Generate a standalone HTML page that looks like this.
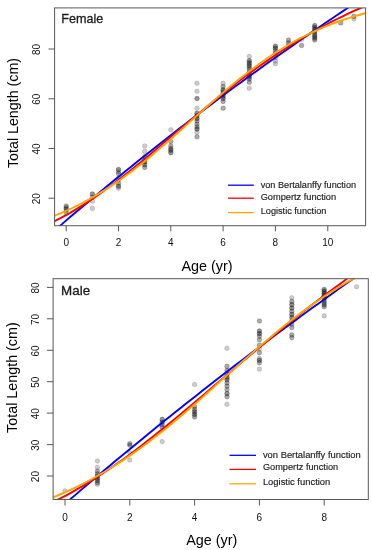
<!DOCTYPE html>
<html><head><meta charset="utf-8"><title>Growth curves</title>
<style>html,body{margin:0;padding:0;background:#fff}svg{display:block}</style></head>
<body>
<svg width="372" height="550" viewBox="0 0 372 550" font-family="'Liberation Sans', sans-serif">
<rect width="372" height="550" fill="#fff"/>
<clipPath id="ct"><rect x="54.6" y="7.9" width="311.0" height="217.79999999999998"/></clipPath>
<g clip-path="url(#ct)">
<g fill="#000" stroke="#000" stroke-width="1">
<circle cx="66.2" cy="206.0" r="2.3" fill-opacity="0.32" stroke-opacity="0.21"/>
<circle cx="66.2" cy="207.7" r="2.3" fill-opacity="0.32" stroke-opacity="0.21"/>
<circle cx="66.2" cy="209.4" r="2.3" fill-opacity="0.32" stroke-opacity="0.21"/>
<circle cx="66.2" cy="211.2" r="2.3" fill-opacity="0.20" stroke-opacity="0.13"/>
<circle cx="66.2" cy="213.2" r="2.3" fill-opacity="0.20" stroke-opacity="0.13"/>
<circle cx="92.4" cy="194.0" r="2.3" fill-opacity="0.41" stroke-opacity="0.28"/>
<circle cx="92.4" cy="197.3" r="2.3" fill-opacity="0.32" stroke-opacity="0.21"/>
<circle cx="92.4" cy="201.2" r="2.3" fill-opacity="0.20" stroke-opacity="0.13"/>
<circle cx="92.4" cy="208.4" r="2.3" fill-opacity="0.20" stroke-opacity="0.13"/>
<circle cx="118.5" cy="169.6" r="2.3" fill-opacity="0.41" stroke-opacity="0.28"/>
<circle cx="118.5" cy="171.9" r="2.3" fill-opacity="0.20" stroke-opacity="0.13"/>
<circle cx="118.5" cy="173.6" r="2.3" fill-opacity="0.32" stroke-opacity="0.21"/>
<circle cx="118.5" cy="178.1" r="2.3" fill-opacity="0.20" stroke-opacity="0.13"/>
<circle cx="118.5" cy="180.1" r="2.3" fill-opacity="0.20" stroke-opacity="0.13"/>
<circle cx="118.5" cy="183.3" r="2.3" fill-opacity="0.32" stroke-opacity="0.21"/>
<circle cx="118.5" cy="186.3" r="2.3" fill-opacity="0.41" stroke-opacity="0.28"/>
<circle cx="118.5" cy="188.3" r="2.3" fill-opacity="0.20" stroke-opacity="0.13"/>
<circle cx="144.7" cy="146.0" r="2.3" fill-opacity="0.20" stroke-opacity="0.13"/>
<circle cx="144.7" cy="151.2" r="2.3" fill-opacity="0.20" stroke-opacity="0.13"/>
<circle cx="144.7" cy="156.7" r="2.3" fill-opacity="0.32" stroke-opacity="0.21"/>
<circle cx="144.7" cy="159.7" r="2.3" fill-opacity="0.32" stroke-opacity="0.21"/>
<circle cx="144.7" cy="161.9" r="2.3" fill-opacity="0.41" stroke-opacity="0.28"/>
<circle cx="144.7" cy="164.7" r="2.3" fill-opacity="0.41" stroke-opacity="0.28"/>
<circle cx="144.7" cy="167.4" r="2.3" fill-opacity="0.32" stroke-opacity="0.21"/>
<circle cx="170.8" cy="129.8" r="2.3" fill-opacity="0.20" stroke-opacity="0.13"/>
<circle cx="170.8" cy="141.5" r="2.3" fill-opacity="0.32" stroke-opacity="0.21"/>
<circle cx="170.8" cy="146.0" r="2.3" fill-opacity="0.32" stroke-opacity="0.21"/>
<circle cx="170.8" cy="148.5" r="2.3" fill-opacity="0.32" stroke-opacity="0.21"/>
<circle cx="170.8" cy="150.2" r="2.3" fill-opacity="0.41" stroke-opacity="0.28"/>
<circle cx="170.8" cy="152.7" r="2.3" fill-opacity="0.41" stroke-opacity="0.28"/>
<circle cx="197.0" cy="83.3" r="2.3" fill-opacity="0.20" stroke-opacity="0.13"/>
<circle cx="197.0" cy="91.3" r="2.3" fill-opacity="0.20" stroke-opacity="0.13"/>
<circle cx="197.0" cy="98.5" r="2.3" fill-opacity="0.41" stroke-opacity="0.28"/>
<circle cx="197.0" cy="108.2" r="2.3" fill-opacity="0.20" stroke-opacity="0.13"/>
<circle cx="197.0" cy="113.2" r="2.3" fill-opacity="0.41" stroke-opacity="0.28"/>
<circle cx="197.0" cy="115.7" r="2.3" fill-opacity="0.41" stroke-opacity="0.28"/>
<circle cx="197.0" cy="118.4" r="2.3" fill-opacity="0.41" stroke-opacity="0.28"/>
<circle cx="197.0" cy="120.9" r="2.3" fill-opacity="0.32" stroke-opacity="0.21"/>
<circle cx="197.0" cy="124.1" r="2.3" fill-opacity="0.32" stroke-opacity="0.21"/>
<circle cx="197.0" cy="126.9" r="2.3" fill-opacity="0.32" stroke-opacity="0.21"/>
<circle cx="197.0" cy="129.1" r="2.3" fill-opacity="0.41" stroke-opacity="0.28"/>
<circle cx="197.0" cy="132.3" r="2.3" fill-opacity="0.20" stroke-opacity="0.13"/>
<circle cx="197.0" cy="136.8" r="2.3" fill-opacity="0.32" stroke-opacity="0.21"/>
<circle cx="223.1" cy="83.3" r="2.3" fill-opacity="0.20" stroke-opacity="0.13"/>
<circle cx="223.1" cy="86.6" r="2.3" fill-opacity="0.32" stroke-opacity="0.21"/>
<circle cx="223.1" cy="89.8" r="2.3" fill-opacity="0.41" stroke-opacity="0.28"/>
<circle cx="223.1" cy="92.0" r="2.3" fill-opacity="0.41" stroke-opacity="0.28"/>
<circle cx="223.1" cy="94.3" r="2.3" fill-opacity="0.41" stroke-opacity="0.28"/>
<circle cx="223.1" cy="96.3" r="2.3" fill-opacity="0.41" stroke-opacity="0.28"/>
<circle cx="223.1" cy="98.5" r="2.3" fill-opacity="0.41" stroke-opacity="0.28"/>
<circle cx="223.1" cy="101.5" r="2.3" fill-opacity="0.32" stroke-opacity="0.21"/>
<circle cx="223.1" cy="108.2" r="2.3" fill-opacity="0.32" stroke-opacity="0.21"/>
<circle cx="249.3" cy="56.5" r="2.3" fill-opacity="0.20" stroke-opacity="0.13"/>
<circle cx="249.3" cy="60.7" r="2.3" fill-opacity="0.41" stroke-opacity="0.28"/>
<circle cx="249.3" cy="62.9" r="2.3" fill-opacity="0.41" stroke-opacity="0.28"/>
<circle cx="249.3" cy="65.2" r="2.3" fill-opacity="0.41" stroke-opacity="0.28"/>
<circle cx="249.3" cy="67.4" r="2.3" fill-opacity="0.32" stroke-opacity="0.21"/>
<circle cx="249.3" cy="69.4" r="2.3" fill-opacity="0.32" stroke-opacity="0.21"/>
<circle cx="249.3" cy="72.6" r="2.3" fill-opacity="0.41" stroke-opacity="0.28"/>
<circle cx="249.3" cy="74.9" r="2.3" fill-opacity="0.41" stroke-opacity="0.28"/>
<circle cx="249.3" cy="77.1" r="2.3" fill-opacity="0.41" stroke-opacity="0.28"/>
<circle cx="249.3" cy="79.1" r="2.3" fill-opacity="0.32" stroke-opacity="0.21"/>
<circle cx="249.3" cy="82.3" r="2.3" fill-opacity="0.32" stroke-opacity="0.21"/>
<circle cx="249.3" cy="88.3" r="2.3" fill-opacity="0.20" stroke-opacity="0.13"/>
<circle cx="275.4" cy="46.3" r="2.3" fill-opacity="0.41" stroke-opacity="0.28"/>
<circle cx="275.4" cy="48.3" r="2.3" fill-opacity="0.41" stroke-opacity="0.28"/>
<circle cx="275.4" cy="51.0" r="2.3" fill-opacity="0.32" stroke-opacity="0.21"/>
<circle cx="275.4" cy="53.5" r="2.3" fill-opacity="0.32" stroke-opacity="0.21"/>
<circle cx="275.4" cy="57.7" r="2.3" fill-opacity="0.20" stroke-opacity="0.13"/>
<circle cx="275.4" cy="60.9" r="2.3" fill-opacity="0.20" stroke-opacity="0.13"/>
<circle cx="275.4" cy="63.7" r="2.3" fill-opacity="0.20" stroke-opacity="0.13"/>
<circle cx="288.5" cy="40.0" r="2.3" fill-opacity="0.32" stroke-opacity="0.21"/>
<circle cx="288.5" cy="42.8" r="2.3" fill-opacity="0.32" stroke-opacity="0.21"/>
<circle cx="288.5" cy="44.8" r="2.3" fill-opacity="0.20" stroke-opacity="0.13"/>
<circle cx="301.6" cy="39.5" r="2.3" fill-opacity="0.20" stroke-opacity="0.13"/>
<circle cx="301.6" cy="45.5" r="2.3" fill-opacity="0.32" stroke-opacity="0.21"/>
<circle cx="314.7" cy="25.6" r="2.3" fill-opacity="0.41" stroke-opacity="0.28"/>
<circle cx="314.7" cy="27.6" r="2.3" fill-opacity="0.41" stroke-opacity="0.28"/>
<circle cx="314.7" cy="29.6" r="2.3" fill-opacity="0.41" stroke-opacity="0.28"/>
<circle cx="314.7" cy="31.8" r="2.3" fill-opacity="0.41" stroke-opacity="0.28"/>
<circle cx="314.7" cy="34.1" r="2.3" fill-opacity="0.32" stroke-opacity="0.21"/>
<circle cx="314.7" cy="36.1" r="2.3" fill-opacity="0.41" stroke-opacity="0.28"/>
<circle cx="314.7" cy="38.1" r="2.3" fill-opacity="0.41" stroke-opacity="0.28"/>
<circle cx="314.7" cy="40.0" r="2.3" fill-opacity="0.32" stroke-opacity="0.21"/>
<circle cx="340.8" cy="22.9" r="2.3" fill-opacity="0.32" stroke-opacity="0.21"/>
<circle cx="353.9" cy="16.4" r="2.3" fill-opacity="0.32" stroke-opacity="0.21"/>
<circle cx="353.9" cy="18.9" r="2.3" fill-opacity="0.20" stroke-opacity="0.13"/>
</g>
<path d="M50.6 233.9 L56.0 229.2 L61.4 224.6 L66.8 219.9 L72.2 215.3 L77.6 210.7 L83.0 206.2 L88.4 201.7 L93.8 197.1 L99.2 192.7 L104.6 188.2 L110.0 183.7 L115.4 179.3 L120.9 174.9 L126.3 170.5 L131.7 166.2 L137.1 161.8 L142.5 157.5 L147.9 153.2 L153.3 148.9 L158.7 144.7 L164.1 140.4 L169.5 136.2 L174.9 132.0 L180.3 127.8 L185.7 123.7 L191.1 119.5 L196.6 115.4 L202.0 111.3 L207.4 107.2 L212.8 103.2 L218.2 99.1 L223.6 95.1 L229.0 91.1 L234.4 87.1 L239.8 83.2 L245.2 79.2 L250.6 75.3 L256.0 71.4 L261.4 67.5 L266.9 63.6 L272.3 59.8 L277.7 56.0 L283.1 52.2 L288.5 48.4 L293.9 44.6 L299.3 40.8 L304.7 37.1 L310.1 33.4 L315.5 29.7 L320.9 26.0 L326.3 22.3 L331.7 18.7 L337.1 15.0 L342.6 11.4 L348.0 7.8 L353.4 4.2 L358.8 0.7 L364.2 -2.9 L369.6 -6.4" fill="none" stroke="#0000ff" stroke-width="1.9"/>
<path d="M50.6 223.0 L56.0 220.4 L61.4 217.6 L66.8 214.7 L72.2 211.6 L77.6 208.4 L83.0 205.0 L88.4 201.5 L93.8 197.9 L99.2 194.1 L104.6 190.2 L110.0 186.3 L115.4 182.2 L120.9 178.0 L126.3 173.8 L131.7 169.5 L137.1 165.1 L142.5 160.7 L147.9 156.2 L153.3 151.7 L158.7 147.1 L164.1 142.6 L169.5 138.0 L174.9 133.4 L180.3 128.8 L185.7 124.3 L191.1 119.7 L196.6 115.2 L202.0 110.7 L207.4 106.2 L212.8 101.8 L218.2 97.5 L223.6 93.1 L229.0 88.9 L234.4 84.7 L239.8 80.5 L245.2 76.5 L250.6 72.5 L256.0 68.5 L261.4 64.7 L266.9 60.9 L272.3 57.2 L277.7 53.5 L283.1 50.0 L288.5 46.5 L293.9 43.1 L299.3 39.8 L304.7 36.6 L310.1 33.5 L315.5 30.4 L320.9 27.4 L326.3 24.5 L331.7 21.7 L337.1 19.0 L342.6 16.3 L348.0 13.7 L353.4 11.2 L358.8 8.8 L364.2 6.4 L369.6 4.1" fill="none" stroke="#ff0000" stroke-width="1.9"/>
<path d="M50.6 217.3 L56.0 215.1 L61.4 212.9 L66.8 210.5 L72.2 208.0 L77.6 205.4 L83.0 202.6 L88.4 199.7 L93.8 196.6 L99.2 193.4 L104.6 190.1 L110.0 186.6 L115.4 183.0 L120.9 179.2 L126.3 175.3 L131.7 171.3 L137.1 167.1 L142.5 162.9 L147.9 158.5 L153.3 154.0 L158.7 149.4 L164.1 144.8 L169.5 140.1 L174.9 135.3 L180.3 130.5 L185.7 125.6 L191.1 120.8 L196.6 115.9 L202.0 111.1 L207.4 106.3 L212.8 101.5 L218.2 96.8 L223.6 92.1 L229.0 87.5 L234.4 83.0 L239.8 78.6 L245.2 74.4 L250.6 70.2 L256.0 66.2 L261.4 62.2 L266.9 58.5 L272.3 54.8 L277.7 51.3 L283.1 48.0 L288.5 44.7 L293.9 41.7 L299.3 38.7 L304.7 36.0 L310.1 33.3 L315.5 30.8 L320.9 28.4 L326.3 26.1 L331.7 24.0 L337.1 22.0 L342.6 20.1 L348.0 18.3 L353.4 16.6 L358.8 15.0 L364.2 13.5 L369.6 12.1" fill="none" stroke="#ffa500" stroke-width="1.9"/>
</g>
<clipPath id="cb"><rect x="53.1" y="278.7" width="315.2" height="220.8"/></clipPath>
<g clip-path="url(#cb)">
<g fill="#000" stroke="#000" stroke-width="1">
<circle cx="65.0" cy="490.9" r="2.3" fill-opacity="0.20" stroke-opacity="0.13"/>
<circle cx="97.4" cy="461.0" r="2.3" fill-opacity="0.20" stroke-opacity="0.13"/>
<circle cx="97.4" cy="467.3" r="2.3" fill-opacity="0.20" stroke-opacity="0.13"/>
<circle cx="97.4" cy="471.0" r="2.3" fill-opacity="0.32" stroke-opacity="0.21"/>
<circle cx="97.4" cy="473.9" r="2.3" fill-opacity="0.32" stroke-opacity="0.21"/>
<circle cx="97.4" cy="476.1" r="2.3" fill-opacity="0.41" stroke-opacity="0.28"/>
<circle cx="97.4" cy="478.3" r="2.3" fill-opacity="0.41" stroke-opacity="0.28"/>
<circle cx="97.4" cy="480.5" r="2.3" fill-opacity="0.41" stroke-opacity="0.28"/>
<circle cx="97.4" cy="482.7" r="2.3" fill-opacity="0.32" stroke-opacity="0.21"/>
<circle cx="97.4" cy="484.2" r="2.3" fill-opacity="0.20" stroke-opacity="0.13"/>
<circle cx="129.8" cy="443.7" r="2.3" fill-opacity="0.32" stroke-opacity="0.21"/>
<circle cx="129.8" cy="445.2" r="2.3" fill-opacity="0.32" stroke-opacity="0.21"/>
<circle cx="129.8" cy="452.8" r="2.3" fill-opacity="0.20" stroke-opacity="0.13"/>
<circle cx="129.8" cy="460.0" r="2.3" fill-opacity="0.20" stroke-opacity="0.13"/>
<circle cx="162.2" cy="419.4" r="2.3" fill-opacity="0.41" stroke-opacity="0.28"/>
<circle cx="162.2" cy="422.3" r="2.3" fill-opacity="0.41" stroke-opacity="0.28"/>
<circle cx="162.2" cy="424.8" r="2.3" fill-opacity="0.32" stroke-opacity="0.21"/>
<circle cx="162.2" cy="427.3" r="2.3" fill-opacity="0.32" stroke-opacity="0.21"/>
<circle cx="162.2" cy="441.5" r="2.3" fill-opacity="0.20" stroke-opacity="0.13"/>
<circle cx="194.6" cy="384.5" r="2.3" fill-opacity="0.20" stroke-opacity="0.13"/>
<circle cx="194.6" cy="406.5" r="2.3" fill-opacity="0.32" stroke-opacity="0.21"/>
<circle cx="194.6" cy="409.4" r="2.3" fill-opacity="0.32" stroke-opacity="0.21"/>
<circle cx="194.6" cy="411.9" r="2.3" fill-opacity="0.41" stroke-opacity="0.28"/>
<circle cx="194.6" cy="414.4" r="2.3" fill-opacity="0.41" stroke-opacity="0.28"/>
<circle cx="194.6" cy="416.9" r="2.3" fill-opacity="0.32" stroke-opacity="0.21"/>
<circle cx="227.0" cy="348.3" r="2.3" fill-opacity="0.20" stroke-opacity="0.13"/>
<circle cx="227.0" cy="366.3" r="2.3" fill-opacity="0.32" stroke-opacity="0.21"/>
<circle cx="227.0" cy="370.4" r="2.3" fill-opacity="0.32" stroke-opacity="0.21"/>
<circle cx="227.0" cy="374.4" r="2.3" fill-opacity="0.41" stroke-opacity="0.28"/>
<circle cx="227.0" cy="377.3" r="2.3" fill-opacity="0.41" stroke-opacity="0.28"/>
<circle cx="227.0" cy="379.8" r="2.3" fill-opacity="0.41" stroke-opacity="0.28"/>
<circle cx="227.0" cy="382.9" r="2.3" fill-opacity="0.32" stroke-opacity="0.21"/>
<circle cx="227.0" cy="386.1" r="2.3" fill-opacity="0.32" stroke-opacity="0.21"/>
<circle cx="227.0" cy="389.5" r="2.3" fill-opacity="0.32" stroke-opacity="0.21"/>
<circle cx="227.0" cy="393.6" r="2.3" fill-opacity="0.41" stroke-opacity="0.28"/>
<circle cx="227.0" cy="396.8" r="2.3" fill-opacity="0.32" stroke-opacity="0.21"/>
<circle cx="227.0" cy="404.3" r="2.3" fill-opacity="0.20" stroke-opacity="0.13"/>
<circle cx="259.4" cy="321.0" r="2.3" fill-opacity="0.32" stroke-opacity="0.21"/>
<circle cx="259.4" cy="331.0" r="2.3" fill-opacity="0.41" stroke-opacity="0.28"/>
<circle cx="259.4" cy="333.6" r="2.3" fill-opacity="0.41" stroke-opacity="0.28"/>
<circle cx="259.4" cy="336.1" r="2.3" fill-opacity="0.32" stroke-opacity="0.21"/>
<circle cx="259.4" cy="339.8" r="2.3" fill-opacity="0.32" stroke-opacity="0.21"/>
<circle cx="259.4" cy="345.2" r="2.3" fill-opacity="0.32" stroke-opacity="0.21"/>
<circle cx="259.4" cy="349.0" r="2.3" fill-opacity="0.20" stroke-opacity="0.13"/>
<circle cx="259.4" cy="352.7" r="2.3" fill-opacity="0.32" stroke-opacity="0.21"/>
<circle cx="259.4" cy="358.4" r="2.3" fill-opacity="0.20" stroke-opacity="0.13"/>
<circle cx="259.4" cy="360.3" r="2.3" fill-opacity="0.41" stroke-opacity="0.28"/>
<circle cx="259.4" cy="362.8" r="2.3" fill-opacity="0.32" stroke-opacity="0.21"/>
<circle cx="259.4" cy="369.1" r="2.3" fill-opacity="0.20" stroke-opacity="0.13"/>
<circle cx="291.8" cy="297.7" r="2.3" fill-opacity="0.20" stroke-opacity="0.13"/>
<circle cx="291.8" cy="301.5" r="2.3" fill-opacity="0.32" stroke-opacity="0.21"/>
<circle cx="291.8" cy="304.6" r="2.3" fill-opacity="0.41" stroke-opacity="0.28"/>
<circle cx="291.8" cy="308.1" r="2.3" fill-opacity="0.41" stroke-opacity="0.28"/>
<circle cx="291.8" cy="311.2" r="2.3" fill-opacity="0.32" stroke-opacity="0.21"/>
<circle cx="291.8" cy="314.4" r="2.3" fill-opacity="0.41" stroke-opacity="0.28"/>
<circle cx="291.8" cy="317.5" r="2.3" fill-opacity="0.41" stroke-opacity="0.28"/>
<circle cx="291.8" cy="321.0" r="2.3" fill-opacity="0.32" stroke-opacity="0.21"/>
<circle cx="291.8" cy="324.1" r="2.3" fill-opacity="0.32" stroke-opacity="0.21"/>
<circle cx="291.8" cy="327.6" r="2.3" fill-opacity="0.32" stroke-opacity="0.21"/>
<circle cx="291.8" cy="334.8" r="2.3" fill-opacity="0.32" stroke-opacity="0.21"/>
<circle cx="291.8" cy="337.6" r="2.3" fill-opacity="0.32" stroke-opacity="0.21"/>
<circle cx="324.2" cy="289.5" r="2.3" fill-opacity="0.41" stroke-opacity="0.28"/>
<circle cx="324.2" cy="291.4" r="2.3" fill-opacity="0.41" stroke-opacity="0.28"/>
<circle cx="324.2" cy="293.3" r="2.3" fill-opacity="0.41" stroke-opacity="0.28"/>
<circle cx="324.2" cy="295.2" r="2.3" fill-opacity="0.41" stroke-opacity="0.28"/>
<circle cx="324.2" cy="297.1" r="2.3" fill-opacity="0.41" stroke-opacity="0.28"/>
<circle cx="324.2" cy="298.9" r="2.3" fill-opacity="0.32" stroke-opacity="0.21"/>
<circle cx="324.2" cy="301.1" r="2.3" fill-opacity="0.32" stroke-opacity="0.21"/>
<circle cx="324.2" cy="303.0" r="2.3" fill-opacity="0.32" stroke-opacity="0.21"/>
<circle cx="324.2" cy="304.9" r="2.3" fill-opacity="0.32" stroke-opacity="0.21"/>
<circle cx="324.2" cy="306.8" r="2.3" fill-opacity="0.32" stroke-opacity="0.21"/>
<circle cx="324.2" cy="315.9" r="2.3" fill-opacity="0.20" stroke-opacity="0.13"/>
<circle cx="356.6" cy="286.7" r="2.3" fill-opacity="0.20" stroke-opacity="0.13"/>
</g>
<path d="M48.8 517.8 L54.3 513.1 L59.8 508.3 L65.3 503.5 L70.8 498.8 L76.3 494.1 L81.7 489.4 L87.2 484.7 L92.7 480.1 L98.2 475.4 L103.7 470.8 L109.2 466.2 L114.7 461.6 L120.2 457.0 L125.7 452.5 L131.2 447.9 L136.7 443.4 L142.2 438.9 L147.6 434.5 L153.1 430.0 L158.6 425.5 L164.1 421.1 L169.6 416.7 L175.1 412.3 L180.6 407.9 L186.1 403.6 L191.6 399.2 L197.1 394.9 L202.6 390.6 L208.1 386.3 L213.5 382.0 L219.0 377.8 L224.5 373.5 L230.0 369.3 L235.5 365.1 L241.0 360.9 L246.5 356.7 L252.0 352.6 L257.5 348.4 L263.0 344.3 L268.5 340.2 L274.0 336.1 L279.4 332.0 L284.9 327.9 L290.4 323.9 L295.9 319.9 L301.4 315.8 L306.9 311.8 L312.4 307.8 L317.9 303.9 L323.4 299.9 L328.9 296.0 L334.4 292.1 L339.9 288.1 L345.3 284.3 L350.8 280.4 L356.3 276.5 L361.8 272.7 L367.3 268.8 L372.8 265.0" fill="none" stroke="#0000ff" stroke-width="1.9"/>
<path d="M48.8 504.0 L54.3 501.4 L59.8 498.7 L65.3 495.8 L70.8 492.8 L76.3 489.7 L81.7 486.6 L87.2 483.2 L92.7 479.8 L98.2 476.3 L103.7 472.7 L109.2 469.0 L114.7 465.2 L120.2 461.4 L125.7 457.4 L131.2 453.4 L136.7 449.2 L142.2 445.1 L147.6 440.8 L153.1 436.5 L158.6 432.1 L164.1 427.7 L169.6 423.2 L175.1 418.7 L180.6 414.2 L186.1 409.6 L191.6 405.0 L197.1 400.3 L202.6 395.7 L208.1 391.0 L213.5 386.3 L219.0 381.6 L224.5 376.9 L230.0 372.2 L235.5 367.6 L241.0 362.9 L246.5 358.2 L252.0 353.6 L257.5 349.0 L263.0 344.4 L268.5 339.8 L274.0 335.2 L279.4 330.7 L284.9 326.3 L290.4 321.8 L295.9 317.4 L301.4 313.1 L306.9 308.8 L312.4 304.5 L317.9 300.3 L323.4 296.1 L328.9 292.0 L334.4 287.9 L339.9 283.9 L345.3 280.0 L350.8 276.1 L356.3 272.2 L361.8 268.4 L367.3 264.7 L372.8 261.1" fill="none" stroke="#ff0000" stroke-width="1.9"/>
<path d="M48.8 499.0 L54.3 496.8 L59.8 494.5 L65.3 492.1 L70.8 489.6 L76.3 487.0 L81.7 484.3 L87.2 481.5 L92.7 478.5 L98.2 475.4 L103.7 472.3 L109.2 469.0 L114.7 465.6 L120.2 462.0 L125.7 458.4 L131.2 454.6 L136.7 450.8 L142.2 446.8 L147.6 442.7 L153.1 438.5 L158.6 434.2 L164.1 429.9 L169.6 425.4 L175.1 420.8 L180.6 416.2 L186.1 411.5 L191.6 406.8 L197.1 402.0 L202.6 397.1 L208.1 392.3 L213.5 387.4 L219.0 382.4 L224.5 377.5 L230.0 372.6 L235.5 367.7 L241.0 362.8 L246.5 357.9 L252.0 353.1 L257.5 348.3 L263.0 343.5 L268.5 338.9 L274.0 334.3 L279.4 329.7 L284.9 325.3 L290.4 321.0 L295.9 316.7 L301.4 312.5 L306.9 308.5 L312.4 304.5 L317.9 300.7 L323.4 297.0 L328.9 293.4 L334.4 289.9 L339.9 286.5 L345.3 283.2 L350.8 280.1 L356.3 277.1 L361.8 274.2 L367.3 271.4 L372.8 268.7" fill="none" stroke="#ffa500" stroke-width="1.9"/>
</g>
<rect x="54.6" y="7.9" width="311.0" height="217.8" fill="none" stroke="#585858" stroke-width="1"/>
<rect x="53.1" y="278.7" width="315.2" height="220.8" fill="none" stroke="#585858" stroke-width="1"/>
<g stroke="#585858" stroke-width="1" fill="none">
<path d="M48.5 198.2H54.6"/>
<path d="M48.5 148.5H54.6"/>
<path d="M48.5 98.8H54.6"/>
<path d="M48.5 49.0H54.6"/>
<path d="M66.2 225.7V231.3"/>
<path d="M118.5 225.7V231.3"/>
<path d="M170.8 225.7V231.3"/>
<path d="M223.1 225.7V231.3"/>
<path d="M275.4 225.7V231.3"/>
<path d="M327.8 225.7V231.3"/>
<path d="M46.9 476.0H53.1"/>
<path d="M46.9 444.6H53.1"/>
<path d="M46.9 413.1H53.1"/>
<path d="M46.9 381.7H53.1"/>
<path d="M46.9 350.3H53.1"/>
<path d="M46.9 318.8H53.1"/>
<path d="M46.9 287.4H53.1"/>
<path d="M65.0 499.5V505.5"/>
<path d="M129.8 499.5V505.5"/>
<path d="M194.6 499.5V505.5"/>
<path d="M259.4 499.5V505.5"/>
<path d="M324.2 499.5V505.5"/>
</g>
<g font-size="10" fill="#111" text-anchor="middle">
<text x="66.2" y="246.4">0</text>
<text x="118.5" y="246.4">2</text>
<text x="170.8" y="246.4">4</text>
<text x="223.1" y="246.4">6</text>
<text x="275.4" y="246.4">8</text>
<text x="327.8" y="246.4">10</text>
<text x="65.0" y="521.2">0</text>
<text x="129.8" y="521.2">2</text>
<text x="194.6" y="521.2">4</text>
<text x="259.4" y="521.2">6</text>
<text x="324.2" y="521.2">8</text>
<text transform="translate(40 198.7) rotate(-90)">20</text>
<text transform="translate(40 148.9) rotate(-90)">40</text>
<text transform="translate(40 99.2) rotate(-90)">60</text>
<text transform="translate(40 49.4) rotate(-90)">80</text>
<text transform="translate(38.8 476.6) rotate(-90)">20</text>
<text transform="translate(38.8 445.2) rotate(-90)">30</text>
<text transform="translate(38.8 413.7) rotate(-90)">40</text>
<text transform="translate(38.8 382.3) rotate(-90)">50</text>
<text transform="translate(38.8 350.9) rotate(-90)">60</text>
<text transform="translate(38.8 319.4) rotate(-90)">70</text>
<text transform="translate(38.8 288.0) rotate(-90)">80</text>
</g>
<g font-size="14.4" fill="#000" text-anchor="middle">
<text x="207" y="270.5">Age (yr)</text>
<text x="211.8" y="544.8">Age (yr)</text>
<text transform="translate(18.2 113) rotate(-90)" textLength="110" lengthAdjust="spacingAndGlyphs">Total Length (cm)</text>
<text transform="translate(17 377.6) rotate(-90)" textLength="110.6" lengthAdjust="spacingAndGlyphs">Total Length (cm)</text>
</g>
<text x="61.2" y="22.7" font-size="13.5" fill="#1a1a1a" stroke="#1a1a1a" stroke-width="0.3" textLength="42" lengthAdjust="spacingAndGlyphs">Female</text>
<text x="61.1" y="295.2" font-size="13.5" fill="#1a1a1a" stroke="#1a1a1a" stroke-width="0.3" textLength="29" lengthAdjust="spacingAndGlyphs">Male</text>
<path d="M228 185.2H253.8" stroke="#0000ff" stroke-width="1.3" fill="none"/>
<path d="M228 198.2H253.8" stroke="#ff0000" stroke-width="1.3" fill="none"/>
<path d="M228 212.6H253.8" stroke="#ffa500" stroke-width="1.3" fill="none"/>
<text x="260.7" y="188" font-size="9.25" fill="#1a1a1a" stroke="#1a1a1a" stroke-width="0.15" textLength="95.4" lengthAdjust="spacingAndGlyphs">von Bertalanffy function</text>
<text x="260.7" y="200.4" font-size="9.25" fill="#1a1a1a" stroke="#1a1a1a" stroke-width="0.15" textLength="75.4" lengthAdjust="spacingAndGlyphs">Gompertz function</text>
<text x="260.7" y="214.2" font-size="9.25" fill="#1a1a1a" stroke="#1a1a1a" stroke-width="0.15" textLength="65.7" lengthAdjust="spacingAndGlyphs">Logistic function</text>
<path d="M229.5 455.3H256" stroke="#0000ff" stroke-width="1.3" fill="none"/>
<path d="M229.5 469.4H256" stroke="#ff0000" stroke-width="1.3" fill="none"/>
<path d="M229.5 483.8H256" stroke="#ffa500" stroke-width="1.3" fill="none"/>
<text x="262.9" y="457.5" font-size="9.25" fill="#1a1a1a" stroke="#1a1a1a" stroke-width="0.15" textLength="97.9" lengthAdjust="spacingAndGlyphs">von Bertalanffy function</text>
<text x="262.9" y="470.3" font-size="9.25" fill="#1a1a1a" stroke="#1a1a1a" stroke-width="0.15" textLength="75.3" lengthAdjust="spacingAndGlyphs">Gompertz function</text>
<text x="262.9" y="485.1" font-size="9.25" fill="#1a1a1a" stroke="#1a1a1a" stroke-width="0.15" textLength="67.4" lengthAdjust="spacingAndGlyphs">Logistic function</text>
</svg>
</body></html>
